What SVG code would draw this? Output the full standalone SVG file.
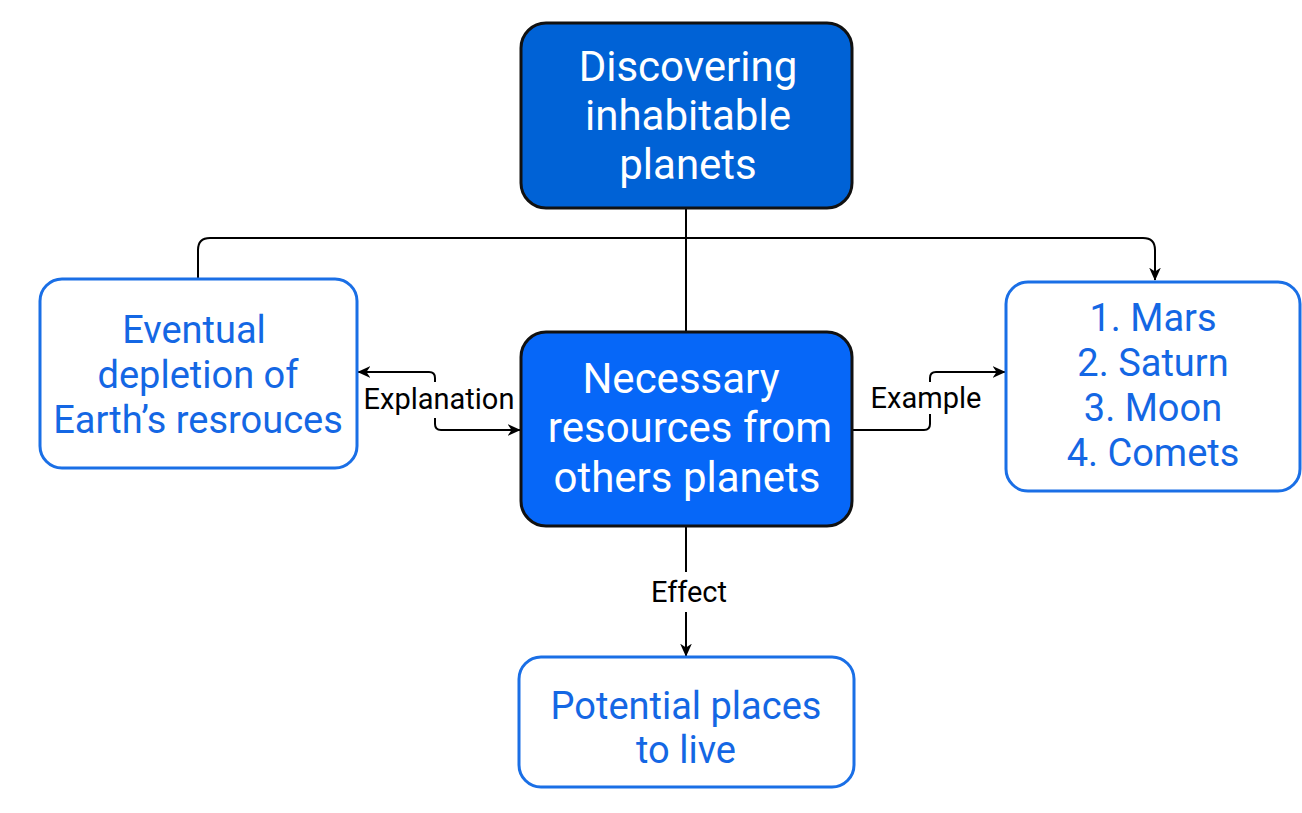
<svg xmlns="http://www.w3.org/2000/svg" width="1302" height="813" viewBox="0 0 1302 813">
<defs>
<marker id="arr" viewBox="0 0 10 10" refX="9.5" refY="5" markerWidth="13" markerHeight="13" markerUnits="userSpaceOnUse" orient="auto-start-reverse">
<path d="M0,0.5 L10,5 L0,9.5 L3,5 Z" fill="#000"/>
</marker>
<style>
.dark{fill:#0062D6;stroke:#111;stroke-width:3}
.mid{fill:#0667F8;stroke:#111;stroke-width:3}
.light{fill:#fff;stroke:#1A6FE6;stroke-width:3}
.wt{font-family:Roboto,"Liberation Sans",sans-serif;font-size:42px;fill:#fff;text-anchor:middle}
.bt{font-family:Roboto,"Liberation Sans",sans-serif;font-size:38px;fill:#1467E4;text-anchor:middle}
.lbl{font-family:Roboto,"Liberation Sans",sans-serif;font-size:29px;fill:#000;text-anchor:middle}
.ln{fill:none;stroke:#000;stroke-width:2}
</style>
</defs>
<rect width="1302" height="813" fill="#fff"/>
<g id="connectors">
<path class="ln" d="M686,208 V332"/>
<path class="ln" d="M198,279 V250 Q198,238 210,238 H1143 Q1155,238 1155,250 V280" marker-end="url(#arr)"/>
<path class="ln" d="M520,430 H441 Q435,430 435,424 V378 Q435,372 429,372 H358" marker-start="url(#arr)" marker-end="url(#arr)"/>
<path class="ln" d="M852,430 H924 Q930,430 930,424 V378 Q930,372 936,372 H1005" marker-end="url(#arr)"/>
<path class="ln" d="M686,526 V656" marker-end="url(#arr)"/>
<rect x="361" y="382" width="156" height="36" fill="#fff"/>
<text class="lbl" x="439" y="409">Explanation</text>
<rect x="866" y="382" width="120" height="32" fill="#fff"/>
<text class="lbl" x="926" y="408">Example</text>
<rect x="646" y="572" width="86" height="40" fill="#fff"/>
<text class="lbl" x="689" y="602">Effect</text>
</g>
<g id="node-top">
<rect class="dark" x="521" y="23" width="331" height="185" rx="25"/>
<text class="wt" x="688" y="81">Discovering</text>
<text class="wt" x="688" y="130">inhabitable</text>
<text class="wt" x="688" y="179">planets</text>
</g>
<g id="node-center">
<rect class="mid" x="521" y="332" width="331" height="194" rx="25"/>
<text class="wt" x="681" y="393">Necessary</text>
<text class="wt" x="690" y="442">resources from</text>
<text class="wt" x="687" y="492">others planets</text>
</g>
<g id="node-left">
<rect class="light" x="40" y="279" width="317" height="189" rx="22"/>
<text class="bt" x="194" y="343">Eventual</text>
<text class="bt" x="198" y="388">depletion of</text>
<text class="bt" x="198" y="433">Earth’s resrouces</text>
</g>
<g id="node-right">
<rect class="light" x="1006" y="282" width="294" height="209" rx="22"/>
<text class="bt" x="1153" y="331">1. Mars</text>
<text class="bt" x="1153" y="376">2. Saturn</text>
<text class="bt" x="1153" y="421">3. Moon</text>
<text class="bt" x="1153" y="466">4. Comets</text>
</g>
<g id="node-bottom">
<rect class="light" x="519" y="657" width="335" height="130" rx="22"/>
<text class="bt" x="686" y="719">Potential places</text>
<text class="bt" x="686" y="763">to live</text>
</g>
</svg>
